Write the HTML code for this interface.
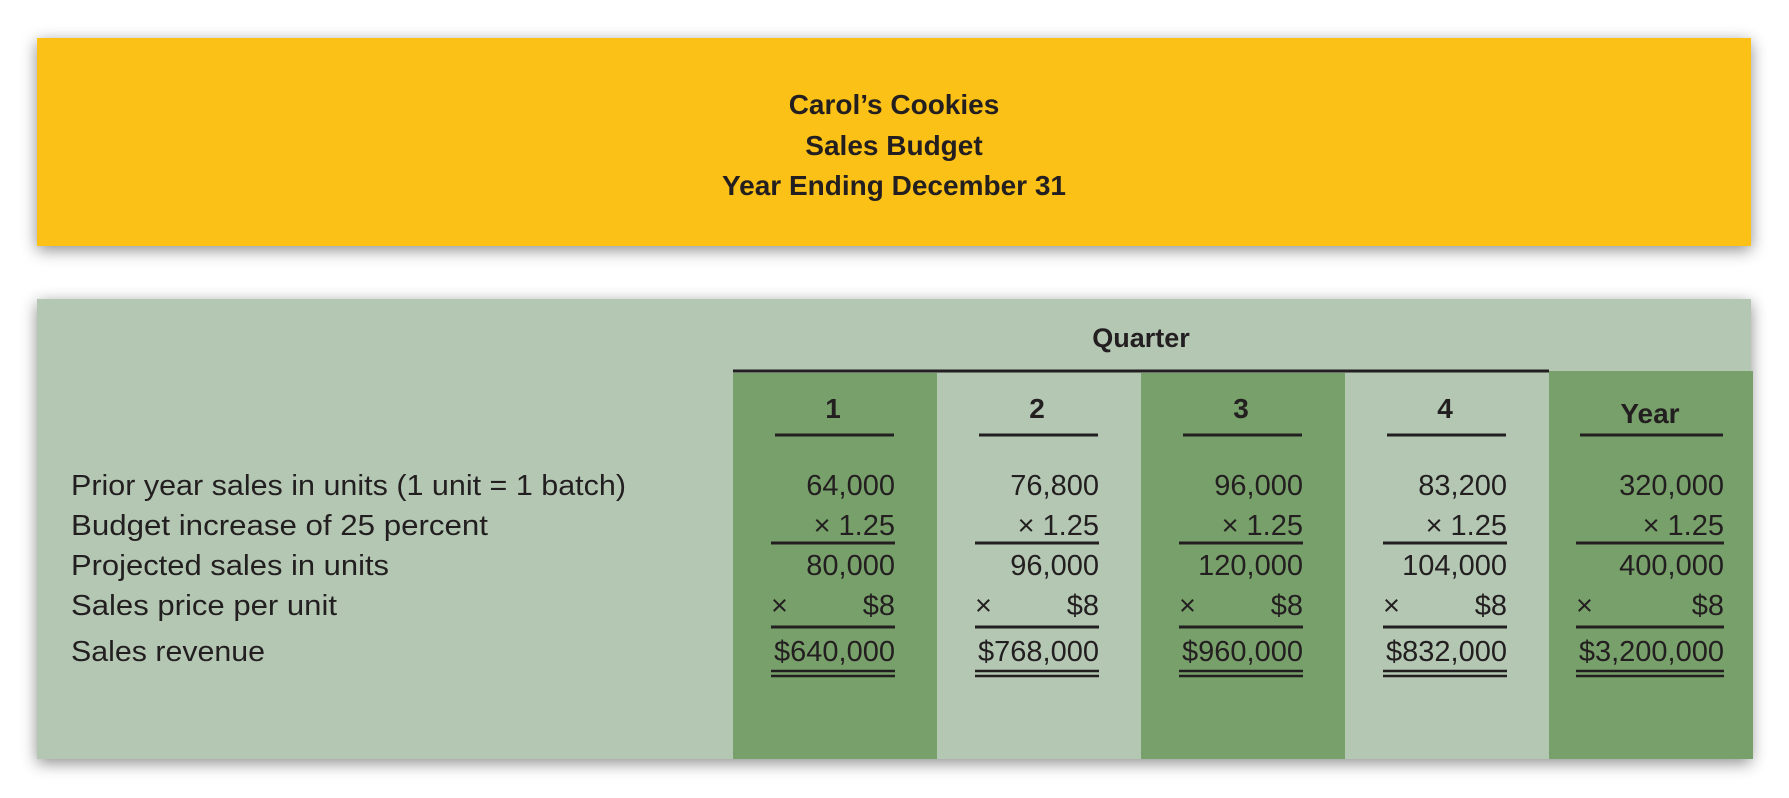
<!DOCTYPE html>
<html><head><meta charset="utf-8"><style>
body{margin:0;background:#fff;}
svg{display:block;font-family:"Liberation Sans",sans-serif;}
</style></head><body>
<svg id="c" width="1789" height="798" viewBox="0 0 1789 798">
<defs>
<filter id="sh" x="-5%" y="-20%" width="110%" height="140%"><feDropShadow dx="0" dy="4" stdDeviation="8" flood-color="#000" flood-opacity="0.45"/></filter>
</defs>
<rect x="37" y="38" width="1714" height="208" fill="#FBC115" filter="url(#sh)"/>
<text x="894" y="114" text-anchor="middle" font-size="28" font-weight="bold" fill="#231f20">Carol’s Cookies</text>
<text x="894" y="155" text-anchor="middle" font-size="28" font-weight="bold" fill="#231f20">Sales Budget</text>
<text x="894" y="195" text-anchor="middle" font-size="28" font-weight="bold" fill="#231f20">Year Ending December 31</text>
<rect x="37" y="299" width="1714" height="460" fill="#B3C7B3" filter="url(#sh)"/>
<text x="1141" y="347" text-anchor="middle" font-size="27" font-weight="bold" fill="#231f20">Quarter</text>
<line x1="733" y1="371" x2="1549" y2="371" stroke="#231f20" stroke-width="3"/>
<g id="g"></g>
</svg>
<script>
const columns = ["1","2","3","4","Year"];
const priorUnits = [64000, 76800, 96000, 83200, 320000];
const increaseFactor = [1.25, 1.25, 1.25, 1.25, 1.25];
const projectedUnits = [80000, 96000, 120000, 104000, 400000];
const unitPrice = [8, 8, 8, 8, 8];
const revenue = [640000, 768000, 960000, 832000, 3200000];
const rowLabels = ["Prior year sales in units (1 unit = 1 batch)","Budget increase of 25 percent","Projected sales in units","Sales price per unit","Sales revenue"];

const NS="http://www.w3.org/2000/svg";
const g=document.getElementById('g');
function mk(tag,attrs,txt){const e=document.createElementNS(NS,tag);for(const k in attrs)e.setAttribute(k,attrs[k]);if(txt!==undefined)e.textContent=txt;g.appendChild(e);return e;}
const fmt=n=>n.toLocaleString('en-US');
const colX=i=>733+i*204;
const rowY=[495,535,575,615,661];
const labelW=[555,417,318,266,194];
rowLabels.forEach((l,r)=>{
  const t=mk('text',{x:71,y:rowY[r],'font-size':29,fill:'#231f20',textLength:labelW[r],lengthAdjust:'spacingAndGlyphs'},l);
  
  
});
columns.forEach((c,i)=>{
  const x0=colX(i), yr=i===4;
  const bg=mk('rect',{x:x0,y:yr?371:373,width:204,height:yr?388:386,fill:(i%2===0)?'#78A06A':'#B3C7B3'});
  
  
  const right=yr?x0+175:x0+162, left=yr?x0+27:x0+38;
  const h=mk('text',{x:(left+right)/2,y:yr?423:418,'text-anchor':'middle','font-size':28,'font-weight':'bold',fill:'#231f20'},c);
  
  
  const hl=mk('line',{x1:left+4,x2:right-1,y1:435,y2:435,stroke:'#231f20','stroke-width':3});
  
  
  const vals=[fmt(priorUnits[i]),'× '+increaseFactor[i].toFixed(2),fmt(projectedUnits[i]),'$'+unitPrice[i],'$'+fmt(revenue[i])];
  vals.forEach((v,r)=>{
    const t=mk('text',{x:right,y:rowY[r],'text-anchor':'end','font-size':29,fill:'#231f20'},v);
    
    
  });
  const x=mk('text',{x:left,y:rowY[3],'font-size':29,fill:'#231f20'},'×');
  
  
  [543,627].forEach((y,k)=>{
    const l=mk('line',{x1:left,x2:right,y1:y,y2:y,stroke:'#231f20','stroke-width':3});
    
    
  });
  [671,676].forEach((y,k)=>{
    const l=mk('line',{x1:left,x2:right,y1:y,y2:y,stroke:'#231f20','stroke-width':2.5});
    
    
  });
});
</script>
</body></html>
